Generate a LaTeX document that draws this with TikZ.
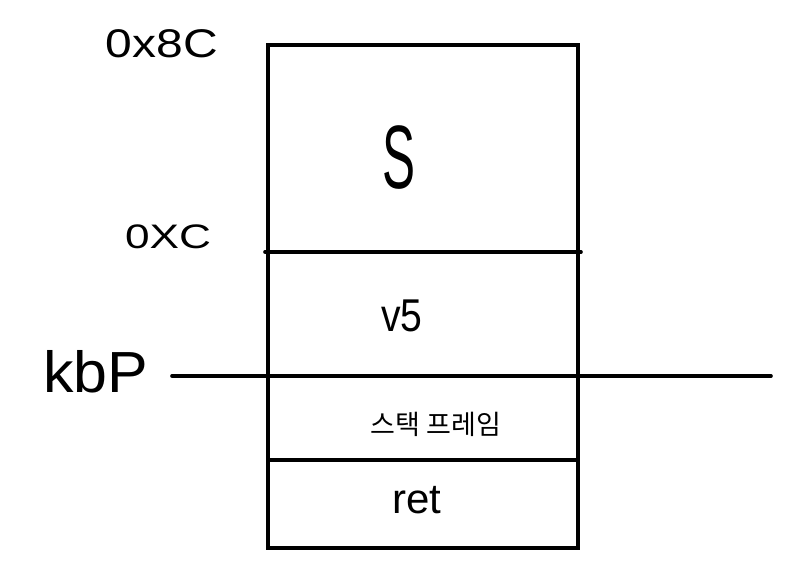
\documentclass[tikz,border=0pt]{standalone}
\usepackage{fontspec}
\setmainfont{Liberation Sans}
\newfontfamily\kr{Noto Sans CJK KR}
\tikzset{
  ln/.style={line width=3.6pt, line cap=round},
  lbl/.style={inner sep=0pt, font=\fontsize{#1}{#1}\selectfont},
}
\begin{document}
\begin{tikzpicture}[x=1pt,y=-1pt]
\useasboundingbox[fill=white] (0,0) rectangle (800,574);
% stack box
\coordinate (tl) at (268,45);
\coordinate (br) at (578,548);
\draw[ln] (tl) rectangle (br);
\coordinate (a1) at (265,252); \coordinate (a2) at (581,252);
\draw[ln] (a1) -- (a2);
\coordinate (k1) at (172,376); \coordinate (k2) at (771,376);
\draw[ln] (k1) -- (k2);
\coordinate (r1) at (268,460); \coordinate (r2) at (578,460);
\draw[ln] (r1) -- (r2);
% labels
\node[lbl=40, xscale=1.2] (addr1) at (162,44) {0x8C};
\node[lbl=34, xscale=1.3] (addr2) at (168,237) {0XC};
\node[lbl=58, xscale=1.05] (kbp) at (96,372) {kbP};
\node[lbl=90, xscale=0.55] (s) at (399,158) {S};
\node[lbl=46, xscale=0.85] (v5) at (402,316) {v5};
\node[lbl=27] (frame) at (436,424) {\kr 스택 프레임};
\node[lbl=42, xscale=1.0] (ret) at (417,500) {ret};
\end{tikzpicture}
\end{document}
